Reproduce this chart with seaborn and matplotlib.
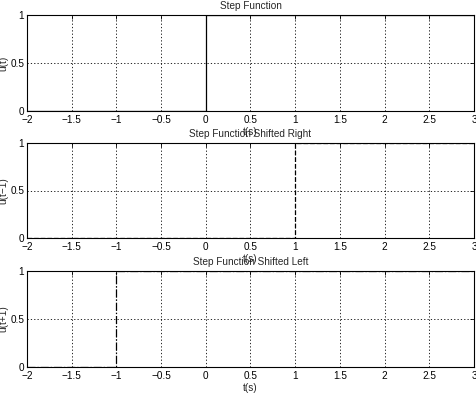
import matplotlib
matplotlib.use("Agg")
import matplotlib.pyplot as plt
import seaborn as sns
import pandas as pd

# Data
t_unshifted = [-2, 0, 0, 3]
t_right = [-2, 1, 1, 3]
t_left = [-2, -1, -1, 3]
u_values = [0, 0, 1, 1]

titles = ["Step Function", "Step Function Shifted Right", "Step Function Shifted Left"]
ylabels = ["u(t)", "u(t\u22121)", "u(t+1)"]
xlabel = "t(s)"
xticks = [-2, -1.5, -1, -0.5, 0, 0.5, 1, 1.5, 2, 2.5, 3]
xticklabels = ["\u22122", "\u22121.5", "\u22121", "\u22120.5", "0", "0.5", "1", "1.5", "2", "2.5", "3"]
yticks = [0, 0.5, 1]
yticklabels = ["0", "0.5", "1"]

sns.set_style("white")
plt.rcParams["font.family"] = ["Liberation Sans", "DejaVu Sans"]
fs = 7.2
plt.rcParams["font.size"] = fs

fig = plt.figure(figsize=(4.77, 3.94), dpi=100)
left, width = 27 / 477, (474 - 27) / 477
boxes = [(15, 111), (143, 238), (271, 367)]
series = [t_unshifted, t_right, t_left]
styles = ["-", "--", "-."]

for (top, bot), tvals, ls, title, yl in zip(boxes, series, styles, titles, ylabels):
    ax = fig.add_axes([left, 1 - bot / 394, width, (bot - top) / 394])
    df = pd.DataFrame({"t": tvals, "u": u_values})
    sns.lineplot(data=df, x="t", y="u", estimator=None, sort=False, ax=ax,
                 color="black", linestyle=ls, linewidth=0.9)
    ax.set_xlim(-2, 3)
    ax.set_ylim(0, 1)
    ax.set_xticks(xticks)
    ax.set_xticklabels(xticklabels)
    ax.set_yticks(yticks)
    ax.set_yticklabels(yticklabels)
    ax.grid(True, color="black", linestyle=(0, (1.5, 2.5)), linewidth=0.6)
    ax.tick_params(direction="in", top=True, right=True, length=3, width=0.6,
                   labelsize=fs, colors="black")
    ax.tick_params(axis="x", pad=3)
    ax.tick_params(axis="y", pad=2)
    for s in ax.spines.values():
        s.set_visible(True)
        s.set_color("black")
        s.set_linewidth(0.8)
    ax.set_title(title, fontsize=fs, pad=4)
    ax.set_xlabel(xlabel, fontsize=fs, labelpad=1)
    ax.set_ylabel(yl, fontsize=fs, labelpad=1)

fig.savefig("out.png", dpi=100)
